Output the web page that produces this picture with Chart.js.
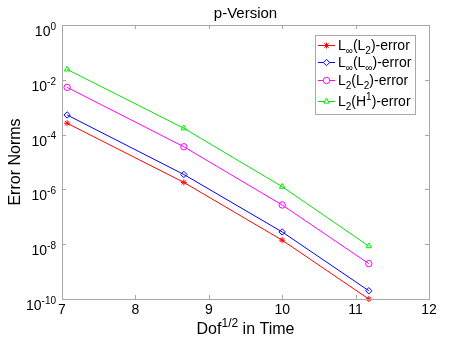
<!DOCTYPE html>
<html lang="en">
<head>
<meta charset="UTF-8">
<title>p-Version</title>
<script src="https://cdn.jsdelivr.net/npm/chart.js"></script>
<style>
    body {
        margin: 0;
        background: #fff;
    }
    canvas {
        display: block;
    }
</style>
</head>
<body>
<canvas id="errorChart" width="474" height="338"></canvas>
<script>
    // square root of the degrees of freedom in time
    const dofSqrt = [7.07, 8.66, 10, 11.18];

    const errLinfL2 = [2.6e-4, 1.8e-6, 1.4e-8, 1.0e-10];
    const errLinfLinf = [5.2e-4, 3.5e-6, 2.8e-8, 2.0e-10];
    const errL2L2 = [5.3e-3, 3.6e-5, 2.7e-7, 1.95e-9];
    const errL2H1 = [2.4e-2, 1.7e-4, 1.26e-6, 8.5e-9];

    const xTicks = [7, 8, 9, 10, 11, 12];
    const yTickExps = [0, -2, -4, -6, -8, -10];

    // legend text split into pieces: [text, 'sub' | 'sup' | '']
    const legendLabels = [
        [['L', ''], ['\u221e', 'sub'], ['(L', ''], ['2', 'sub'], [')-error', '']],
        [['L', ''], ['\u221e', 'sub'], ['(L', ''], ['\u221e', 'sub'], [')-error', '']],
        [['L', ''], ['2', 'sub'], ['(L', ''], ['2', 'sub'], [')-error', '']],
        [['L', ''], ['2', 'sub'], ['(H', ''], ['1', 'sup'], [')-error', '']]
    ];

    const FONT = '"Liberation Sans", Arial, Helvetica, sans-serif';
    const AXIS_COLOR = '#a8a8a8';

    function toPoints(ys) {
        return dofSqrt.map((x, i) => ({x: x, y: ys[i]}));
    }

    function series(data, color, style) {
        return {
            data: toPoints(data),
            borderColor: color,
            backgroundColor: style === 'star' ? color : 'rgba(255,255,255,0)',
            pointBorderColor: color,
            pointStyle: style,
            pointRadius: style === 'star' ? 3 : 3.2,
            pointBorderWidth: 1,
            borderWidth: 1,
            showLine: true,
            tension: 0,
            clip: false
        };
    }

    const datasets = [
        series(errLinfL2, '#ff0000', 'star'),
        series(errLinfLinf, '#0000ff', 'rectRot'),
        series(errL2L2, '#ff00ff', 'circle'),
        series(errL2H1, '#00e600', 'triangle')
    ];

    // draws text pieces with sub/superscripts, returns the end x
    function drawPieces(ctx, pieces, x, y, size) {
        const small = Math.round(size * 0.72);
        for (const [txt, kind] of pieces) {
            if (kind === 'sub') {
                ctx.font = small + 'px ' + FONT;
                ctx.fillText(txt, x, y + size * 0.3);
            } else if (kind === 'sup') {
                ctx.font = small + 'px ' + FONT;
                ctx.fillText(txt, x, y - size * 0.45);
            } else {
                ctx.font = size + 'px ' + FONT;
                ctx.fillText(txt, x, y);
            }
            x += ctx.measureText(txt).width;
        }
        return x;
    }

    function piecesWidth(ctx, pieces, size) {
        const small = Math.round(size * 0.72);
        let w = 0;
        for (const [txt, kind] of pieces) {
            ctx.font = (kind ? small : size) + 'px ' + FONT;
            w += ctx.measureText(txt).width;
        }
        return w;
    }

    const matlabAxes = {
        id: 'matlabAxes',
        afterDraw(chart) {
            const ctx = chart.ctx;
            const area = chart.chartArea;
            const xs = chart.scales.x;
            const ys = chart.scales.y;
            ctx.save();

            // box
            ctx.strokeStyle = AXIS_COLOR;
            ctx.lineWidth = 1;
            ctx.strokeRect(Math.round(area.left) + 0.5, Math.round(area.top) + 0.5,
                Math.round(area.right - area.left), Math.round(area.bottom - area.top));

            // inward ticks
            ctx.beginPath();
            xTicks.forEach(v => {
                const px = Math.round(xs.getPixelForValue(v)) + 0.5;
                ctx.moveTo(px, area.bottom);
                ctx.lineTo(px, area.bottom - 4);
                ctx.moveTo(px, area.top);
                ctx.lineTo(px, area.top + 4);
            });
            yTickExps.forEach(e => {
                const py = Math.round(ys.getPixelForValue(Math.pow(10, e))) + 0.5;
                ctx.moveTo(area.left, py);
                ctx.lineTo(area.left + 4, py);
                ctx.moveTo(area.right, py);
                ctx.lineTo(area.right - 4, py);
            });
            ctx.stroke();

            ctx.fillStyle = '#000';
            ctx.textBaseline = 'alphabetic';

            // x tick labels
            ctx.font = '14px ' + FONT;
            ctx.textAlign = 'center';
            xTicks.forEach(v => {
                ctx.fillText(String(v), xs.getPixelForValue(v), area.bottom + 15);
            });

            // y tick labels 10^e
            ctx.textAlign = 'left';
            yTickExps.forEach(e => {
                const py = ys.getPixelForValue(Math.pow(10, e));
                const pieces = [['10', ''], [String(e), 'sup']];
                const w = piecesWidth(ctx, pieces, 14);
                drawPieces(ctx, pieces, area.left - 6 - w, py + 11, 14);
            });

            // title
            ctx.textAlign = 'center';
            ctx.font = '15px ' + FONT;
            ctx.fillText('p-Version', (area.left + area.right) / 2, 18);

            // x axis title
            ctx.textAlign = 'left';
            const xt = [['Dof', ''], ['1/2', 'sup'], [' in Time', '']];
            const xtw = piecesWidth(ctx, xt, 16);
            drawPieces(ctx, xt, (area.left + area.right) / 2 - xtw / 2, 334, 16);

            // y axis title
            ctx.save();
            ctx.translate(20, (area.top + area.bottom) / 2);
            ctx.rotate(-Math.PI / 2);
            ctx.textAlign = 'center';
            ctx.font = '16px ' + FONT;
            ctx.fillText('Error Norms', 0, 0);
            ctx.restore();

            // legend
            const lx = 315, ly = 35, lw = 100, lh = 79;
            ctx.fillStyle = '#fff';
            ctx.fillRect(lx, ly, lw, lh);
            ctx.strokeStyle = AXIS_COLOR;
            ctx.strokeRect(lx + 0.5, ly + 0.5, lw, lh);
            const rows = [45, 62, 80, 101];
            chart.data.datasets.forEach((ds, i) => {
                const ry = rows[i];
                ctx.strokeStyle = ds.borderColor;
                ctx.lineWidth = 1;
                ctx.beginPath();
                ctx.moveTo(318, ry + 0.5);
                ctx.lineTo(335, ry + 0.5);
                ctx.stroke();
                ctx.fillStyle = ds.pointStyle === 'star' ? ds.borderColor : '#fff';
                Chart.helpers.drawPoint(ctx, {
                    pointStyle: ds.pointStyle,
                    radius: ds.pointRadius,
                    rotation: 0,
                    borderWidth: 1
                }, 326.5, ry + 0.5);
                ctx.fillStyle = '#000';
                ctx.textAlign = 'left';
                drawPieces(ctx, legendLabels[i], 338, ry + 5, 14);
            });

            ctx.restore();
        }
    };

    const ctx = document.getElementById('errorChart').getContext('2d');
    new Chart(ctx, {
        type: 'scatter',
        data: {datasets: datasets},
        options: {
            responsive: false,
            animation: false,
            layout: {
                padding: {left: 62, right: 45, top: 25, bottom: 39}
            },
            plugins: {
                legend: {display: false},
                title: {display: false},
                tooltip: {enabled: false}
            },
            scales: {
                x: {
                    type: 'linear',
                    display: false,
                    min: 7,
                    max: 12
                },
                y: {
                    type: 'logarithmic',
                    display: false,
                    min: 1e-10,
                    max: 1
                }
            }
        },
        plugins: [matlabAxes]
    });
</script>
</body>
</html>
